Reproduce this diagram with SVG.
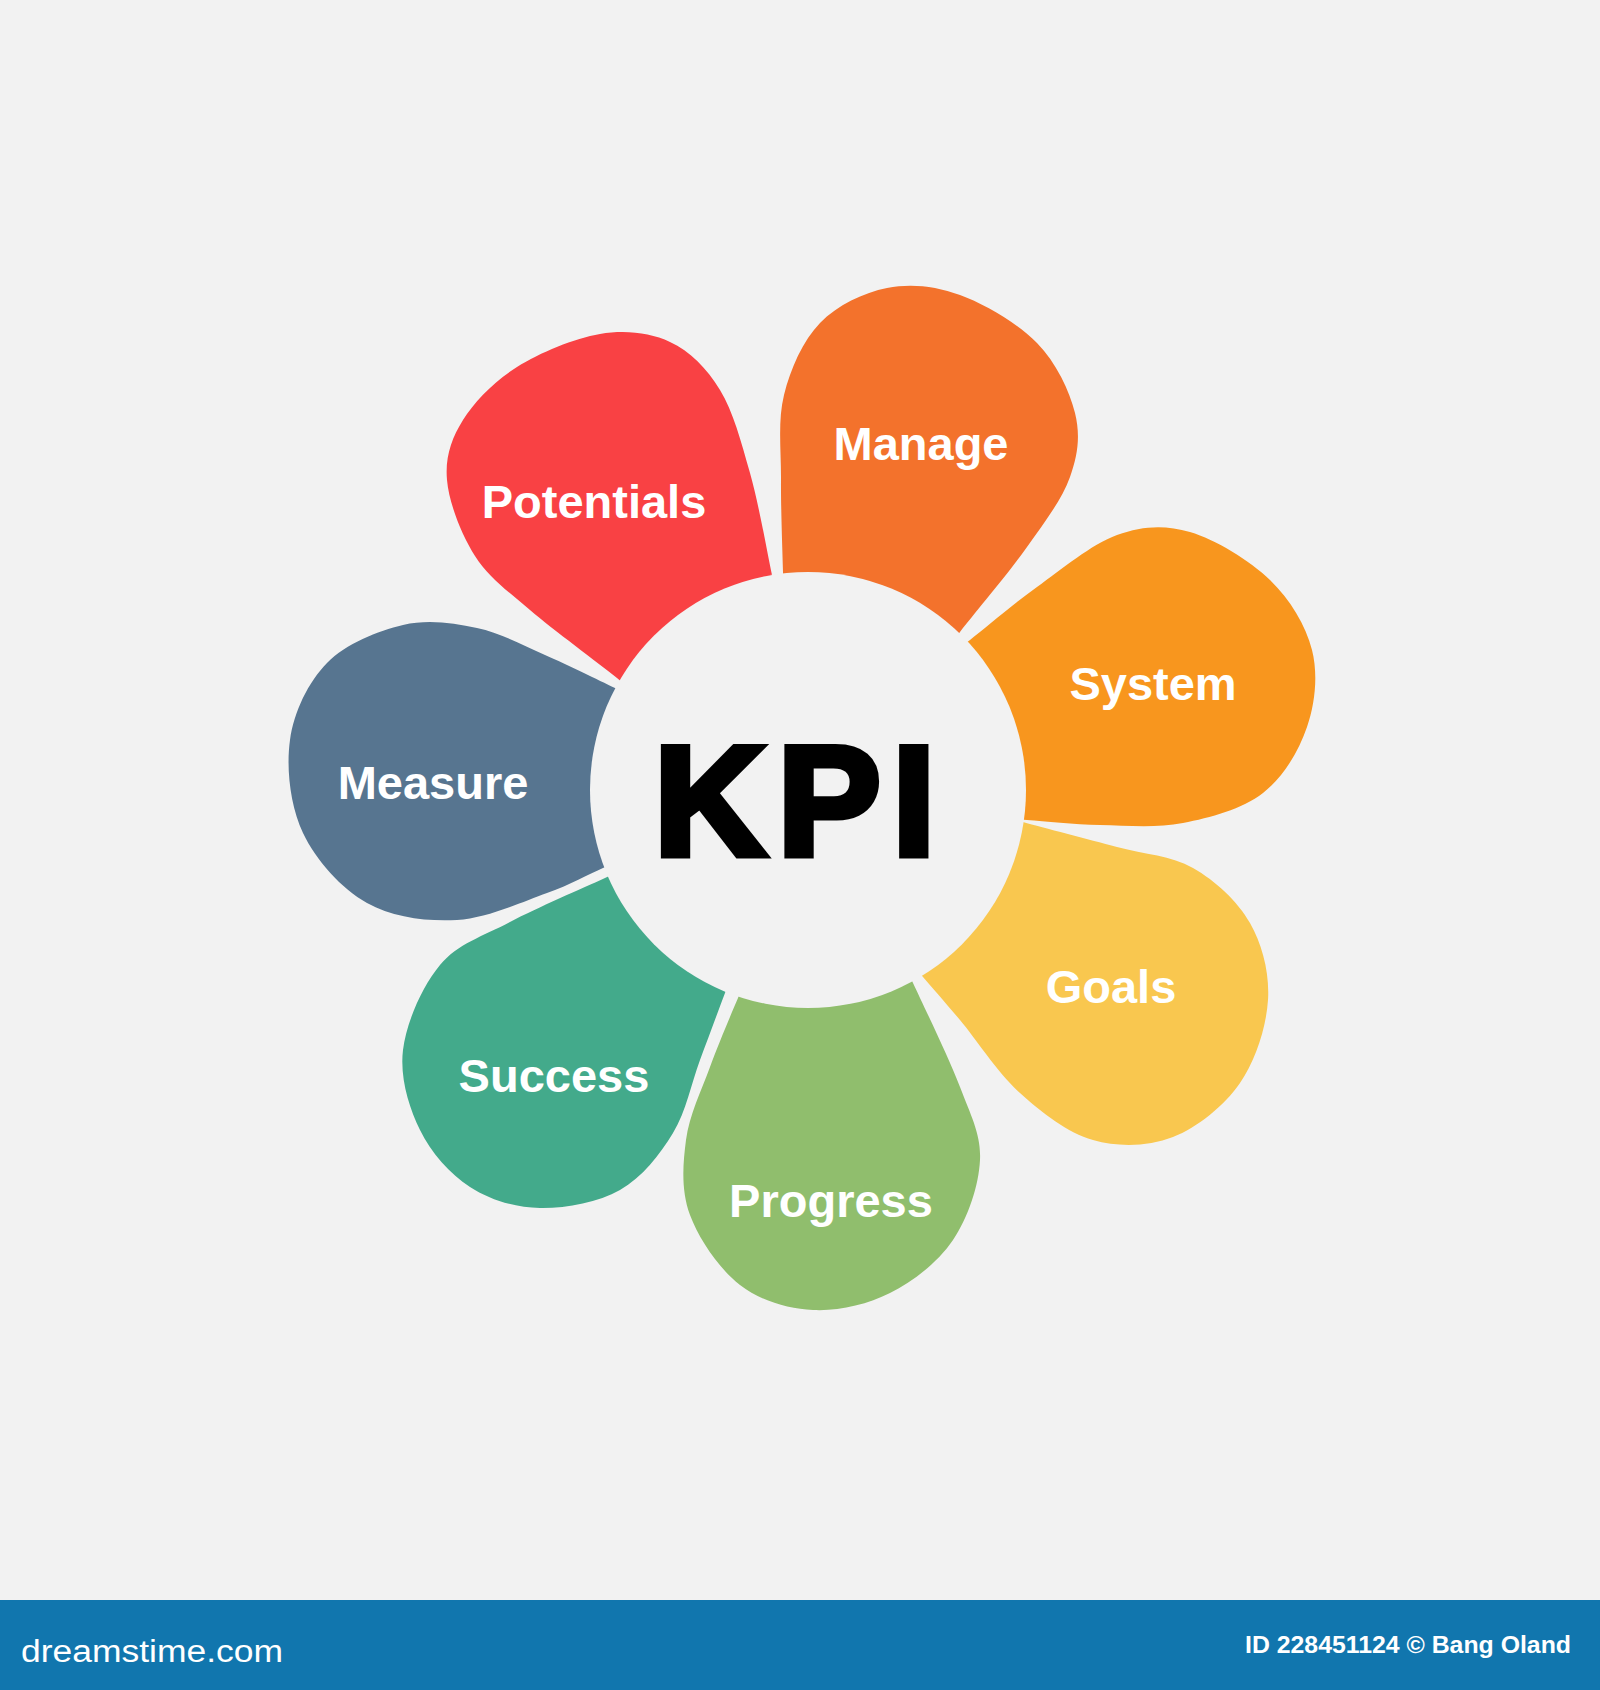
<svg xmlns="http://www.w3.org/2000/svg" width="1600" height="1690" viewBox="0 0 1600 1690">
<style>
.lbl{font-family:"Liberation Sans",Arial,sans-serif;font-weight:bold;font-size:47px;fill:#ffffff;text-anchor:middle}
.kpi{font-family:"Liberation Sans",Arial,sans-serif;font-weight:bold;font-size:155px;fill:#000;stroke:#000;stroke-width:7;stroke-linejoin:miter;letter-spacing:11.5px}
.foot{font-family:"Liberation Sans",Arial,sans-serif;fill:#ffffff}
</style>
<rect x="0" y="0" width="1600" height="1690" fill="#F2F2F2"/>
<g id="connectors"></g>
<g id="node-potentials">
<path fill="#F94144" d="M778,605 C776,595 776.7,597 772,575 S758.7,503.8 750,473 S733.3,411.8 720,390 S690,351.3 670,342 S625.5,329.8 600,334 S539.8,352.7 517,367 S474.7,401.2 463,420 S445,457.3 447,480 S461.2,534.3 475,556 S506.3,589.7 530,610 S597,661.8 617,678 S639,697.3 650,707 L808,790 Z"/>
<text class="lbl" x="594" y="518">Potentials</text>
</g>
<g id="node-manage">
<path fill="#F3722C" d="M784,605 C783.7,594 783.5,592.8 783,572 S780.8,509.5 781,480 S777.5,421.2 784,395 S802.8,340.8 820,323 S863.7,292.7 887,288 S935,285.8 960,295 S1017.8,323.3 1037,343 S1069.5,390.7 1075,413 S1078,454.7 1070,477 S1045.3,521.2 1027,547 S974.5,613.2 960,632 S946.7,650.7 940,660 L808,790 Z"/>
<text class="lbl" x="921" y="460">Manage</text>
</g>
<g id="node-system">
<path fill="#F8961E" d="M946,659 C954,652.7 954.8,652 970,640 S1012.5,604.5 1037,587 S1091.5,544.2 1117,535 S1164.5,524.5 1190,532 S1249.7,560.3 1270,580 S1305.8,625.5 1312,650 S1315.2,703.2 1307,727 S1283.7,777 1263,793 S1210.2,817.7 1183,823 S1126,825.5 1100,825 S1044.5,821.2 1027,820 S1005.7,818.7 995,818 L808,790 Z"/>
<text class="lbl" x="1153" y="700">System</text>
</g>
<g id="node-goals">
<path fill="#F9C74F" d="M995,812 C1004.3,815.3 1002.7,816.2 1023,822 S1088.7,839.3 1117,847 S1170.8,855.3 1193,868 S1237.5,901 1250,923 S1269.7,973.3 1268,1000 S1255.8,1060.2 1240,1083 S1197.5,1127.5 1173,1137 S1118.5,1147.3 1093,1140 S1042.2,1113 1020,1093 S976.2,1039.3 960,1020 S932.2,987.8 923,977 S911,962.3 905,955 L808,790 Z"/>
<text class="lbl" x="1111" y="1003">Goals</text>
</g>
<g id="node-progress">
<path fill="#90BE6D" d="M750,972 C746,980.7 744.7,982.2 738,998 S718.7,1043.3 710,1067 S689.3,1115.3 686,1140 S681,1190.8 690,1215 S719.5,1269.2 740,1285 S788,1308.7 813,1310 S866.7,1304.7 890,1293 S938,1262.2 953,1240 S978.8,1185.5 980,1160 S971.2,1116.5 960,1087 S922.8,1004.2 913,983 S905,967.7 901,960 L808,790 Z"/>
<text class="lbl" x="831" y="1217">Progress</text>
</g>
<g id="node-success">
<path fill="#43AA8B" d="M735,968 C731.7,976.3 730.8,977.7 725,993 S708.7,1036.7 700,1060 S686.3,1111.3 673,1133 S642.2,1177.5 620,1190 S565,1208.5 540,1208 S490,1200 470,1187 S431.2,1152.8 420,1130 S399.7,1077.5 403,1050 S422.2,986.3 440,965 S482.5,936.5 510,922 S583.3,888 605,878 S628.3,867.3 640,862 L808,790 Z"/>
<text class="lbl" x="554" y="1092">Success</text>
</g>
<g id="node-measure">
<path fill="#577590" d="M645,703 C635,698 631.7,696 615,688 S568,665 545,655 S500.7,633 477,628 S428,619.2 403,625 S345.8,643.8 327,663 S294,711.7 290,740 S290.2,805.8 303,833 S341.3,888.5 367,903 S427,921.7 457,920 S522.7,901.7 547,893 S587.5,874.8 603,868 S627.7,857.3 640,852 L808,790 Z"/>
<text class="lbl" x="433" y="799">Measure</text>
</g>
<g id="node-kpi">
<circle cx="808" cy="790" r="218" fill="#F2F2F2"/>
<text class="kpi" x="654" y="855">KPI</text>
</g>
<g id="footer">
<rect x="0" y="1600" width="1600" height="90" fill="#1176AE"/>
<text class="foot" x="21" y="1662" font-size="31" textLength="262" lengthAdjust="spacingAndGlyphs">dreamstime.com</text>
<text class="foot" x="1245" y="1653" font-size="24" font-weight="bold" textLength="326" lengthAdjust="spacingAndGlyphs">ID 228451124 © Bang Oland</text>
</g>
</svg>
